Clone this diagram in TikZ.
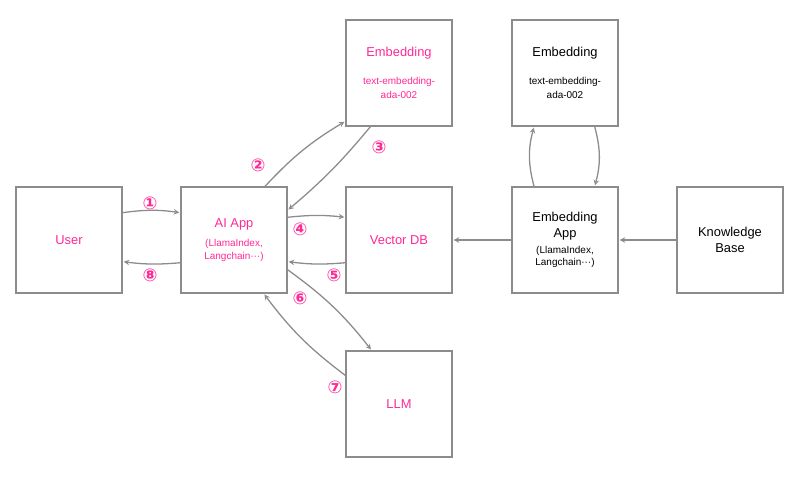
\documentclass[tikz,border=0pt]{standalone}
\usepackage{fontspec}
\setmainfont{Liberation Sans}
\newfontfamily\numfont{DejaVu Sans}
\definecolor{appPink}{RGB}{255,40,150}
\definecolor{lineGray}{RGB}{140,140,140}
\tikzset{
  box/.style={draw=lineGray,line width=0.9pt,minimum width=3.18cm,minimum height=3.18cm,align=center,font=\fontsize{11}{14}\selectfont},
  pinkbox/.style={box,text=appPink},
  flow/.style={->,draw=lineGray,line width=1.1pt,>=stealth,shorten >=1pt},
  stepnum/.style={text=appPink,font=\numfont\bfseries\fontsize{15}{15}\selectfont}
}
\newcommand{\sub}[1]{{\fontsize{8.5}{12}\selectfont #1}}
\begin{document}
\begin{tikzpicture}[x=0.03cm,y=-0.03cm]
\useasboundingbox (0,0) rectangle (800,482);

\node[pinkbox] (user) at (69,240) {User};
\node[pinkbox] (ai) at (234,240) {AI App\\[2pt]\sub{(LlamaIndex,}\\[-3pt]\sub{Langchain\textperiodcentered\textperiodcentered\textperiodcentered)}};
\node[pinkbox] (vdb) at (399,240) {Vector DB};
\node[pinkbox] (emb) at (399,73) {Embedding\\[10pt]\sub{text-embedding-}\\[-2pt]\sub{ada-002}};
\node[pinkbox] (llm) at (399,404) {LLM};
\node[box] (emb2) at (565,73) {Embedding\\[10pt]\sub{text-embedding-}\\[-2pt]\sub{ada-002}};
\node[box] (eapp) at (565,240) {Embedding\\App\\[-1pt]\sub{(LlamaIndex,}\\[-3pt]\sub{Langchain\textperiodcentered\textperiodcentered\textperiodcentered)}};
\node[box] (kb) at (730,240) {Knowledge\\Base};

% main flow
\draw[flow] (user.27) to[bend left=8] (ai.153);
\draw[flow] (ai.60) to[bend left=8] (emb.222);
\draw[flow] (emb.-118) to[bend left=5] (ai.29.5);
\draw[flow] (ai.23.5) to[bend left=6] (vdb.157);
\draw[flow] (vdb.-157) to[bend left=6] (ai.-22.5);
\draw[flow] (ai.-29.5) to[bend left=8] (llm.117);
\draw[flow] (llm.152) to[bend left=8] (ai.-61);
\draw[flow] (ai.-157.5) to[bend left=6] (user.-22.5);

% indexing side
\draw[flow] (eapp.120) to[bend left=15] (emb2.-120);
\draw[flow] (emb2.-61) to[bend left=15] (eapp.61);
\draw[flow] (kb) -- (eapp);
\draw[flow] (eapp) -- (vdb);

\node[stepnum] (n1) at (150,203) {①};
\node[stepnum] (n2) at (258,165) {②};
\node[stepnum] (n3) at (379,147) {③};
\node[stepnum] (n4) at (300,229) {④};
\node[stepnum] (n5) at (334,275) {⑤};
\node[stepnum] (n6) at (300,298) {⑥};
\node[stepnum] (n7) at (335,387) {⑦};
\node[stepnum] (n8) at (150,275) {⑧};
\end{tikzpicture}
\end{document}
